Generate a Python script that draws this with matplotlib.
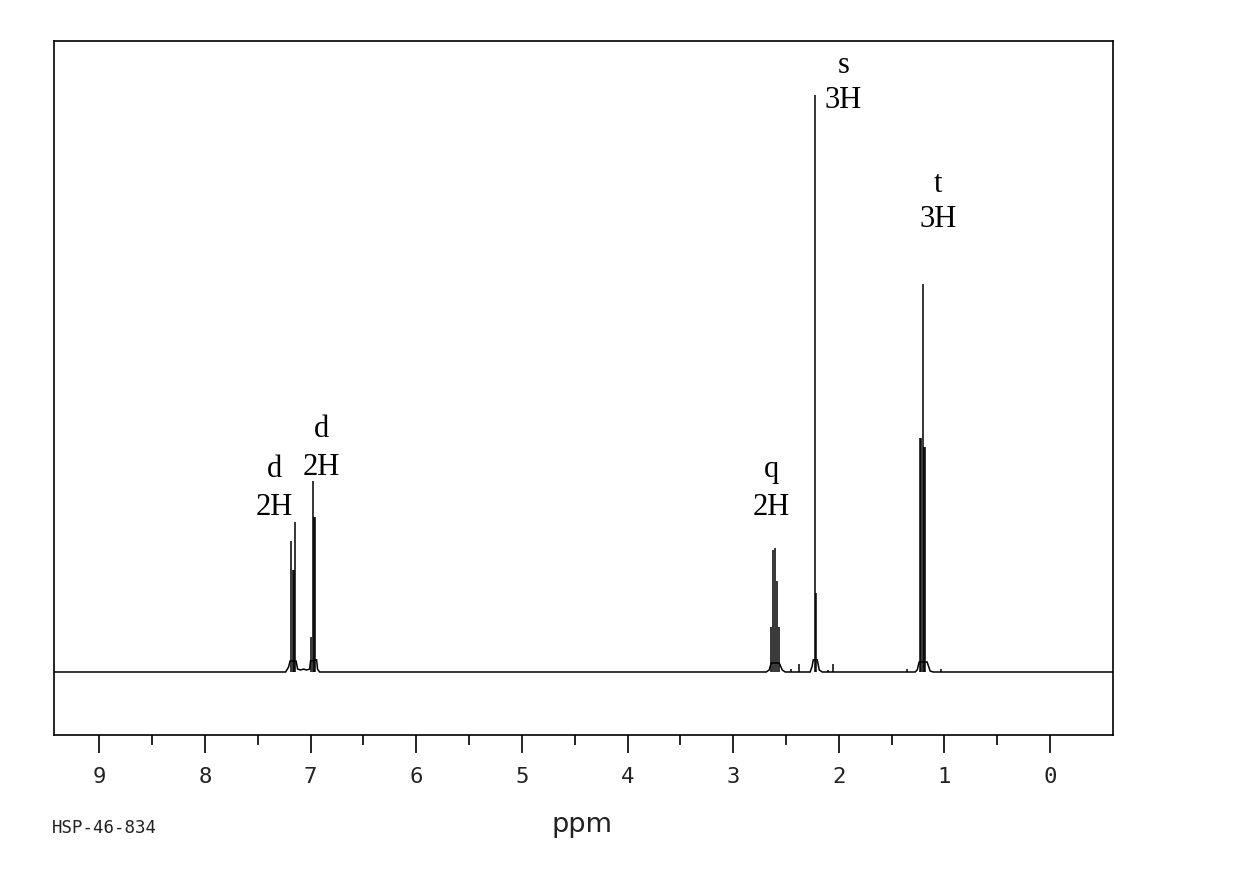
import matplotlib
matplotlib.use("Agg")
import matplotlib.pyplot as plt
from matplotlib.ticker import FixedLocator

# ---- data (ppm, relative intensity; singlet = 100) ----
line_ppm = [7.184, 7.171, 7.162, 7.150,
            7.001, 6.982, 6.970, 6.963,
            2.640, 2.621, 2.602, 2.588, 2.564,
            2.223, 2.214,
            2.450, 2.381, 2.103, 2.056,
            1.227, 1.218, 1.204, 1.189, 1.180,
            1.353, 1.031]
line_int = [22.7, 17.7, 17.7, 26.0,
            6.1, 33.1, 26.9, 26.9,
            7.8, 21.1, 21.5, 15.8, 7.8,
            100.0, 13.7,
            0.5, 1.4, 0.4, 1.3,
            40.6, 40.6, 67.2, 39.0, 39.0,
            0.5, 0.5]

base_ppm = [9.43, 7.237, 7.209, 7.195, 7.138, 7.124, 7.096, 7.067, 7.039, 7.010,
            7.001, 6.944, 6.935, 6.916,
            2.687, 2.659, 2.640, 2.564, 2.535, 2.507,
            2.271, 2.252, 2.242, 2.204, 2.185, 2.157,
            1.277, 1.258, 1.239, 1.164, 1.135, 1.107, -0.6]
base_int = [0, 0, 0.87, 1.9, 1.9, 0.5, 0.35, 0.5, 0.35, 0.5,
            1.9, 2.1, 0.5, 0,
            0, 0.35, 1.56, 1.56, 0.35, 0,
            0, 1.0, 2.1, 2.1, 0.35, 0,
            0, 0.35, 1.73, 1.73, 0.17, 0, 0]

mult_labels = ["s", "t", "d", "d", "q"]
count_labels = ["3H", "3H", "2H", "2H", "2H"]
# label layout (ppm x-centre, baseline heights of the two lines)
label_x = [1.958, 1.060, 6.902, 7.346, 2.640]
label_y_low = [97.7, 77.1, 34.1, 27.2, 27.2]
label_y_up = [103.8, 83.2, 40.7, 33.8, 33.8]

major_ticks = [9, 8, 7, 6, 5, 4, 3, 2, 1, 0]
minor_ticks = [8.5, 7.5, 6.5, 5.5, 4.5, 3.5, 2.5, 1.5, 0.5]

# ---- figure ----
fig = plt.figure(figsize=(12.51, 8.91), dpi=100)
ax = fig.add_axes([54 / 1251, (891 - 735) / 891, (1113 - 54) / 1251, (735 - 41) / 891])

ax.plot(base_ppm, base_int, color="black", lw=1.1, solid_joinstyle="miter")
ax.vlines(line_ppm, 0, line_int, color="black", lw=1.1)

ax.set_xlim(9.43, -0.596)
ax.set_ylim(-10.92, 109.36)

ax.yaxis.set_visible(False)
ax.xaxis.set_major_locator(FixedLocator(major_ticks))
ax.xaxis.set_minor_locator(FixedLocator(minor_ticks))
ax.set_xticklabels([str(t) for t in major_ticks], family="DejaVu Sans Mono",
                   fontsize=16, color="#222222")
ax.tick_params(axis="x", which="major", direction="out", length=13, width=1.2, pad=10)
ax.tick_params(axis="x", which="minor", direction="out", length=7, width=1.2)
for sp in ax.spines.values():
    sp.set_linewidth(1.2)

for m, c, x, yl, yu in zip(mult_labels, count_labels, label_x, label_y_low, label_y_up):
    ax.text(x, yu, m, ha="center", va="baseline", family="Liberation Serif", fontsize=22)
    ax.text(x, yl, c, ha="center", va="baseline", family="Liberation Serif", fontsize=22)

fig.text(582 / 1251, 1 - 825 / 891, "ppm", ha="center", va="center",
         family="DejaVu Sans", fontsize=19.5, color="#222222")
fig.text(52 / 1251, 1 - 828 / 891, "HSP-46-834", ha="left", va="center",
         family="DejaVu Sans Mono", fontsize=12.5, color="#222222")

fig.savefig("out.png", dpi=100)
